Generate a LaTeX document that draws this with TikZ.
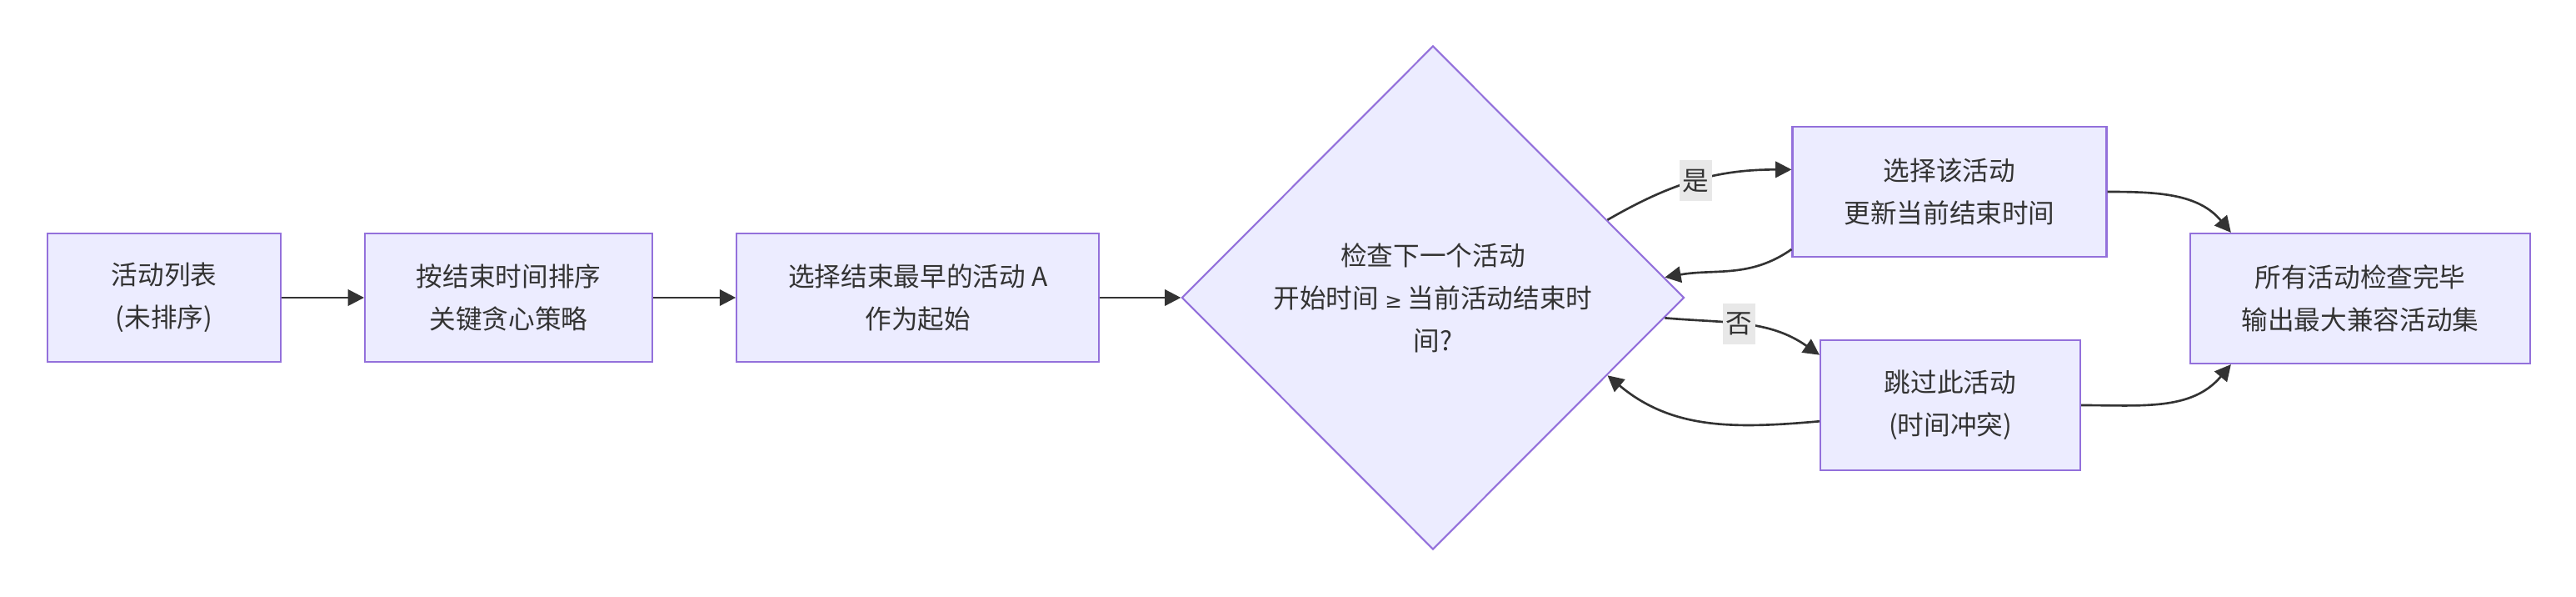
\documentclass[tikz,border=0pt]{standalone}
\usepackage{fontspec}
\usepackage{xcolor}
\usetikzlibrary{arrows.meta,positioning,shapes.geometric}
\newfontfamily\cjk{Noto Sans CJK SC}
\newfontfamily\symb{DejaVu Sans}
\definecolor{nodebg}{HTML}{ECECFF}
\definecolor{nodeborder}{HTML}{9370DB}
\definecolor{edgeline}{HTML}{333333}
\definecolor{labelbg}{HTML}{E8E8E8}

\begin{document}
\begin{tikzpicture}[
    >=Stealth,
    stepbox/.style={
        rectangle, fill=nodebg, draw=nodeborder, line width=0.6pt,
        minimum height=1.54cm, align=center, inner sep=0pt,
        font=\cjk\fontsize{9pt}{14.5pt}\selectfont, text=edgeline
    },
    checkbox/.style={
        diamond, fill=nodebg, draw=nodeborder, line width=0.6pt,
        minimum width=6.03cm, minimum height=6.04cm, aspect=1,
        align=center, inner sep=0pt,
        font=\cjk\fontsize{9pt}{14.5pt}\selectfont, text=edgeline
    },
    flow/.style={
        -{Triangle[length=5.5pt, width=5.5pt]}, line width=0.75pt, draw=edgeline
    },
    edgetag/.style={
        fill=labelbg, inner xsep=1pt, inner ysep=3pt,
        font=\cjk\fontsize{9pt}{11pt}\selectfont, text=edgeline
    }
]

\useasboundingbox (0,0) rectangle (30.92,-7.16);

% ==================== MAIN ROW ====================
\node[stepbox, minimum width=2.80cm] (list) at (1.97,-3.57) {活动列表\\(未排序)};
\node[stepbox, minimum width=3.45cm, right=0.99cm of list] (sort) {按结束时间排序\\关键贪心策略};
\node[stepbox, minimum width=4.35cm, right=0.99cm of sort] (pick) {选择结束最早的活动 A\\作为起始};
\node[checkbox] (check) at (17.20,-3.57) {检查下一个活动\\开始时间 {\symb\fontsize{7pt}{9pt}\selectfont ≥} 当前活动结束时\\间?};

% ==================== BRANCHES ====================
\node[stepbox, minimum width=3.77cm, minimum height=1.56cm] (take) at (23.40,-2.30) {选择该活动\\更新当前结束时间};
\node[stepbox, minimum width=3.12cm, minimum height=1.56cm] (skip) at (23.41,-4.86) {跳过此活动\\(时间冲突)};
\node[stepbox, minimum width=4.08cm, minimum height=1.56cm] (done) at (28.33,-3.58) {所有活动检查完毕\\输出最大兼容活动集};

% ==================== CONNECTORS ====================
\draw[flow] (list) -- (sort);
\draw[flow] (sort) -- (pick);
\draw[flow] (pick) -- (check);

\draw[flow] (check.24) to[out=30, in=180] node[pos=0.5, edgetag] {是} (take.172);
\draw[flow] (take.200) to[out=215, in=10] (check.5);
\draw[flow] (check.-5) to[out=-5, in=145] node[pos=0.45, edgetag] {否} (skip.159);
\draw[flow] (skip.187) to[out=185, in=-40] (check.-24);

\draw[flow] (take.east) to[out=0, in=130] (done.153);
\draw[flow] (skip.east) to[out=0, in=-130] (done.-153);

\end{tikzpicture}
\end{document}
